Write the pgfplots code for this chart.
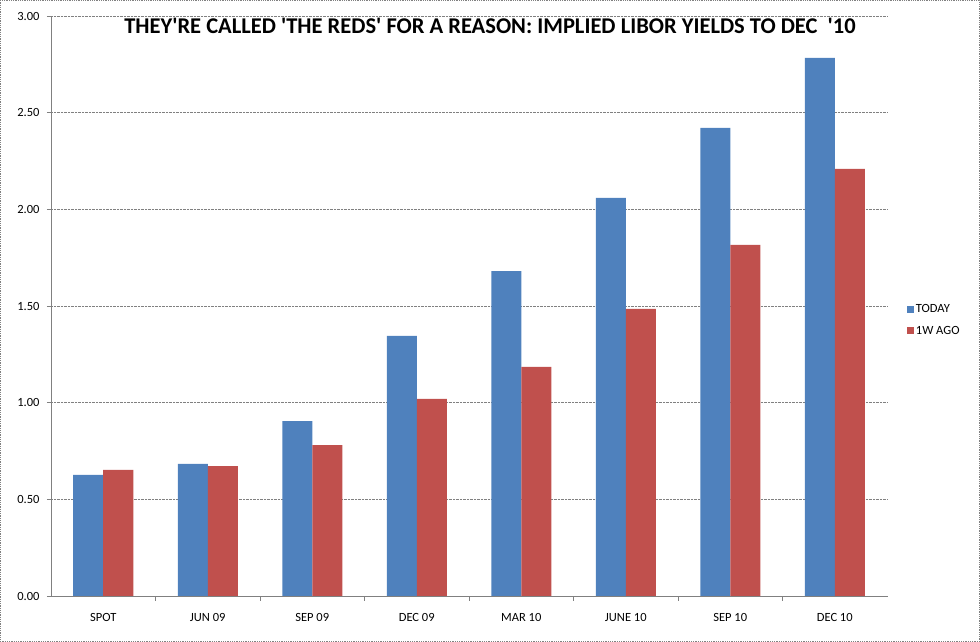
\documentclass[border=0pt]{standalone}
\usepackage{pgfplots}
\pgfplotsset{compat=1.18}
\usepackage{fontspec}
\setmainfont{Carlito}
\definecolor{todayblue}{HTML}{4F81BD}
\definecolor{agored}{HTML}{C0504D}
\definecolor{gridgray}{HTML}{808080}

\pgfplotstableread{
idx today ago
0 0.626 0.652
1 0.683 0.672
2 0.905 0.781
3 1.345 1.019
4 1.681 1.185
5 2.059 1.485
6 2.421 1.816
7 2.783 2.209
}\yields

\begin{document}
\begin{tikzpicture}[x=1pt,y=1pt]
% page frame: the axis area starts at the origin
\useasboundingbox (-51,-46) rectangle (929,596);
\draw[gridgray, densely dotted, line width=0.8pt] (-50.5,-45.5) rectangle (928.5,595.5);
\begin{axis}[
  scale only axis, width=836pt, height=580pt,
  ybar=0pt, bar width=30pt,
  xmin=-0.5, xmax=7.5, ymin=0, ymax=3,
  xtick={0,...,7},
  xticklabels={SPOT,JUN 09,SEP 09,DEC 09,MAR 10,JUNE 10,SEP 10,DEC 10},
  minor xtick={0.5,1.5,...,6.5},
  major x tick style={draw=none},
  ytick={0,0.5,...,3},
  /pgf/number format/fixed,
  /pgf/number format/fixed zerofill,
  /pgf/number format/precision=2,
  /pgf/number format/assume math mode=true,
  tick label style={font=\fontsize{12.5}{15}\selectfont},
  xticklabel style={yshift=-10pt},
  yticklabel style={xshift=-4pt},
  tick align=outside,
  major tick length=4pt, minor tick length=5pt,
  tick style={gridgray, line width=0.8pt},
  ymajorgrids, grid style={gridgray, densely dotted, line width=0.8pt},
  axis line style={gridgray, line width=0.8pt},
  axis x line*=bottom, axis y line*=left,
  separate axis lines,
  x axis line style={-}, y axis line style={-},
  legend style={at={(1.02,0.476)}, anchor=west, draw=none, fill=none,
    font=\fontsize{12.5}{15}\selectfont, row sep=8pt,
    legend cell align=left},
  legend image code/.code={\fill[#1] (0pt,-3.5pt) rectangle (7pt,3.5pt);},
]
\addplot[fill=todayblue, draw=none] table[x=idx,y=today] {\yields};
\addplot[fill=agored, draw=none] table[x=idx,y=ago] {\yields};
\legend{TODAY,1W AGO}
\end{axis}
\node[font=\fontsize{22.5}{26}\selectfont\bfseries] at (439,570) {THEY\textquotesingle RE CALLED \textquotesingle THE REDS\textquotesingle{} FOR A REASON: IMPLIED LIBOR YIELDS TO DEC\ \ \textquotesingle 10};
\end{tikzpicture}
\end{document}
